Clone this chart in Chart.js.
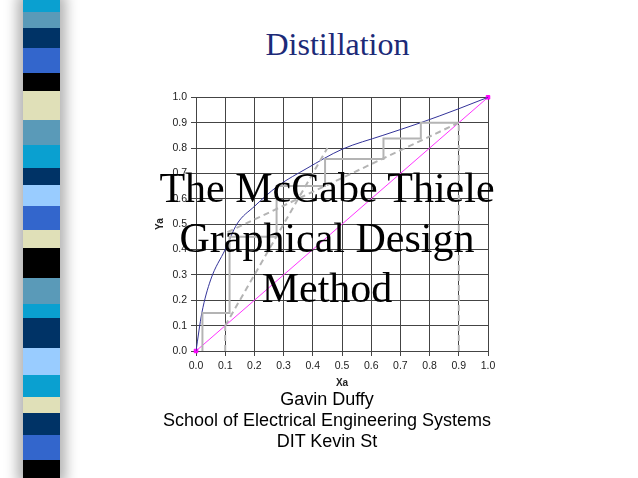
<!DOCTYPE html>
<html>
<head>
<meta charset="utf-8">
<script src="https://cdn.jsdelivr.net/npm/chart.js@4.4.1/dist/chart.umd.min.js"></script>
<style>
  html, body { margin: 0; padding: 0; background: #fff; }
  body { width: 638px; height: 478px; position: relative; overflow: hidden; }
  #stripe { position: absolute; left: 23px; top: 0; width: 37px; height: 478px;
            box-shadow: 0 0 12px 6px rgba(0,0,0,0.3); }
  #stripe div { width: 100%; }
  #title { position: absolute; left: 0; width: 675px; top: 26px; text-align: center;
           font-family: "Liberation Serif", "Times New Roman", serif; font-size: 32px; color: #1c2a78; }
  #chartBox { position: absolute; left: 140px; top: 87px; width: 360px; height: 303px; }
  #overlay { position: absolute; left: 0; width: 654px; top: 163px; text-align: center;
             font-family: "Liberation Serif", "Times New Roman", serif; font-size: 42px; line-height: 50px; color: #000; }
  #footer { position: absolute; left: 0; width: 654px; top: 389px; text-align: center;
            font-family: "Liberation Sans", Arial, sans-serif; font-size: 18px; line-height: 21px; color: #000; }
</style>
</head>
<body>
<div id="stripe"></div>
<div id="title">Distillation</div>
<div id="chartBox"><canvas id="mccabeChart"></canvas></div>
<div id="overlay">The McCabe Thiele<br>Graphical Design<br>Method</div>
<div id="footer">Gavin Duffy<br>School of Electrical Engineering Systems<br>DIT Kevin St</div>

<script>
// equilibrium curve
const eqX = [0, 0.02, 0.05, 0.1, 0.14, 0.2, 0.28, 0.38, 0.5, 0.64, 0.77, 0.9, 1.0];
const eqY = [0, 0.15, 0.28, 0.40, 0.50, 0.57, 0.65, 0.72, 0.795, 0.85, 0.90, 0.955, 1.0];

// 45 degree line
const diagX = [0, 1];
const diagY = [0, 1];

// stage steps
const stepX = [0.9, 0.77, 0.77, 0.642, 0.642, 0.442, 0.442, 0.276, 0.276, 0.115, 0.115, 0.022, 0.022];
const stepY = [0.9, 0.9, 0.838, 0.838, 0.757, 0.757, 0.65, 0.65, 0.45, 0.45, 0.15, 0.15, 0.0];

// operating lines (dashed)
const rectX = [0.9, 0.1];
const rectY = [0.9, 0.464];
const stripX = [0.1, 0.45];
const stripY = [0.1, 0.80];
const topX = [0.9, 0.9];
const topY = [0.0, 0.9];
const botX = [0.1, 0.1];
const botY = [0.0, 0.1];

// slide stripe bands
const bandColors = ["#0aa0d0", "#5a9ab8", "#003366", "#3366cc", "#000000", "#e0e0b8", "#5a9ab8", "#0aa0d0",
    "#003366", "#99ccff", "#3366cc", "#e0e0b8", "#000000", "#5a9ab8", "#0aa0d0", "#003366", "#99ccff",
    "#0aa0d0", "#e0e0b8", "#003366", "#3366cc", "#000000"];
const bandHeights = [12, 16, 20, 25, 18, 29, 25, 23, 17, 21, 24, 18, 30, 26, 14, 30, 27, 22, 16, 22, 25, 18];

const stripe = document.getElementById("stripe");
bandColors.forEach((c, i) => {
    let d = document.createElement("div");
    d.style.background = c;
    d.style.height = bandHeights[i] + "px";
    stripe.appendChild(d);
});

function pts(xs, ys) {
    return xs.map((x, i) => ({ x: x, y: ys[i] }));
}

const gray = "#b4b4b4";
const gridColor = "#444";
const dashed = {
    showLine: true, borderColor: gray, borderWidth: 2, borderDash: [6, 4],
    pointRadius: 0, fill: false
};

const ctx = document.getElementById("mccabeChart").getContext("2d");
new Chart(ctx, {
    type: "scatter",
    data: {
        datasets: [
            Object.assign({ data: pts(topX, topY) }, dashed),
            Object.assign({ data: pts(botX, botY) }, dashed),
            Object.assign({ data: pts(rectX, rectY) }, dashed),
            Object.assign({ data: pts(stripX, stripY) }, dashed),
            {
                data: pts(stepX, stepY), showLine: true, borderColor: gray, borderWidth: 2,
                pointRadius: 0, fill: false
            },
            {
                data: pts(eqX, eqY), showLine: true, borderColor: "#333399", borderWidth: 1,
                pointRadius: 0, cubicInterpolationMode: "monotone", fill: false
            },
            {
                data: pts(diagX, diagY), showLine: true, borderColor: "#ff33ff", borderWidth: 1,
                pointRadius: 2.5, pointStyle: "rect", pointBackgroundColor: "#ff00ff",
                pointBorderColor: "#ff00ff", clip: 8, fill: false
            }
        ]
    },
    options: {
        responsive: true,
        maintainAspectRatio: false,
        animation: false,
        layout: { padding: { top: 4, right: 12, left: 0, bottom: 0 } },
        plugins: { legend: { display: false }, tooltip: { enabled: false } },
        scales: {
            x: {
                type: "linear", min: 0, max: 1,
                afterFit: scale => { scale.height = 39; },
                grid: { color: gridColor, lineWidth: 1, tickLength: 5, tickColor: gridColor },
                border: { color: gridColor },
                ticks: {
                    stepSize: 0.1, padding: 4, color: "#222",
                    font: { family: "Liberation Sans", size: 10.5 },
                    callback: v => v.toFixed(1)
                },
                title: {
                    display: true, text: "Xa", color: "#222", padding: { top: 0, bottom: 1 },
                    font: { family: "Liberation Sans", size: 10, weight: "bold" }
                }
            },
            y: {
                type: "linear", min: 0, max: 1,
                afterFit: scale => { scale.width = 56; },
                grid: { color: gridColor, lineWidth: 1, tickLength: 5, tickColor: gridColor },
                border: { color: gridColor },
                ticks: {
                    stepSize: 0.1, padding: 4, color: "#222",
                    font: { family: "Liberation Sans", size: 10.5 },
                    callback: v => v.toFixed(1)
                },
                title: {
                    display: true, text: "Ya", color: "#222", padding: { top: 14, bottom: 0 },
                    font: { family: "Liberation Sans", size: 10, weight: "bold" }
                }
            }
        }
    }
});
</script>
</body>
</html>
